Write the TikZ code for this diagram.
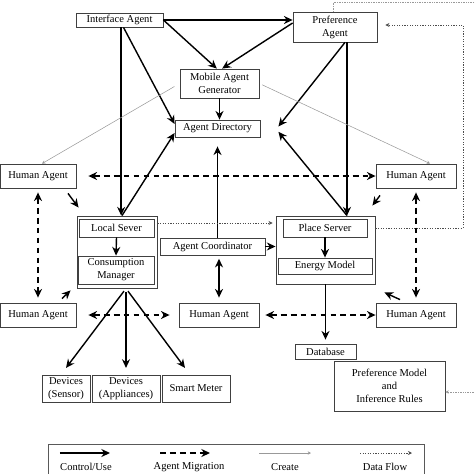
\documentclass[tikz,border=0pt]{standalone}
\usepackage{fontspec}
\setmainfont{Liberation Serif}
\usetikzlibrary{arrows.meta,calc}
\tikzset{
  box_n/.style = {draw=black!75, line width=0.7pt, align=center, inner sep=1pt, font=\small},
  box_o/.style = {draw=black!75, line width=0.8pt, inner sep=0pt},
  ctl/.style = {line width=1.2pt, -{Stealth[length=2.6mm,width=2.4mm]}},
  ctl2/.style = {line width=1.2pt, {Stealth[length=2.6mm,width=2.4mm]}-{Stealth[length=2.6mm,width=2.4mm]}},
  mig/.style = {line width=1.2pt, dash pattern=on 5pt off 3.5pt, -{Stealth[length=2.6mm,width=2.4mm]}},
  mig2/.style = {line width=1.2pt, dash pattern=on 5pt off 3.5pt, {Stealth[length=2.6mm,width=2.4mm]}-{Stealth[length=2.6mm,width=2.4mm]}},
  create/.style = {draw=gray!80, line width=0.45pt, -{Stealth[length=1mm,width=1mm]}},
  dflow/.style = {draw=black!70, line width=0.6pt, dash pattern=on 1pt off 1.2pt, -{Stealth[length=1.2mm,width=1.2mm]}}
}

\begin{document}
\begin{tikzpicture}[x=0.03cm, y=-0.03cm]
\useasboundingbox (0,0) rectangle (474,474);

% agents on top
\node [box_n, minimum width=2.61cm, minimum height=0.42cm] (ia) at (119.5,20) {Interface Agent};
\node [box_n, minimum width=2.52cm, minimum height=0.9cm] (pa) at (335,27) {Preference\\Agent};
\node [box_n, minimum width=2.37cm, minimum height=0.87cm] (mag) at (219.5,83.5) {Mobile Agent\\Generator};
\node [box_n, minimum width=2.55cm, minimum height=0.51cm] (ad) at (217.5,128.5) {Agent Directory};

% human agents
\node [box_n, minimum width=2.28cm, minimum height=0.72cm] (hatl) at (38,176) {Human Agent};
\node [box_n, minimum width=2.4cm, minimum height=0.72cm] (hatr) at (416,176) {Human Agent};
\node [box_n, minimum width=2.28cm, minimum height=0.72cm] (habl) at (38,315) {Human Agent};
\node [box_n, minimum width=2.4cm, minimum height=0.72cm] (habm) at (219,315) {Human Agent};
\node [box_n, minimum width=2.4cm, minimum height=0.72cm] (habr) at (416,315) {Human Agent};

% servers
\node [box_o, minimum width=2.4cm, minimum height=2.16cm] (lsbox) at (117,252) {};
\node [box_n, minimum width=2.25cm, minimum height=0.54cm] (ls) at (116.5,228) {Local Sever};
\node [box_n, minimum width=2.28cm, minimum height=0.84cm] (cm) at (116,270) {Consumption\\Manager};
\node [box_o, minimum width=2.97cm, minimum height=2.04cm] (psbox) at (325.5,250) {};
\node [box_n, minimum width=2.52cm, minimum height=0.54cm] (ps) at (325,228) {Place Server};
\node [box_n, minimum width=2.82cm, minimum height=0.48cm] (em) at (325,266) {Energy Model};
\node [box_n, minimum width=3.15cm, minimum height=0.51cm] (ac) at (212.5,246.5) {Agent Coordinator};

% bottom boxes
\node [box_n, minimum width=1.83cm, minimum height=0.45cm] (db) at (325.5,351.5) {Database};
\node [box_n, minimum width=3.33cm, minimum height=1.5cm] (pm) at (389.5,386) {Preference Model\\and\\Inference Rules};
\node [box_n, minimum width=1.44cm, minimum height=0.81cm] (ds) at (66,388.5) {Devices\\(Sensor)};
\node [box_n, minimum width=2.04cm, minimum height=0.81cm] (dapp) at (126,388.5) {Devices\\(Appliances)};
\node [box_n, minimum width=2.04cm, minimum height=0.81cm] (sm) at (196,388.5) {Smart Meter};

% control / use
\draw[ctl] (ia.east) -- (ia.east -| pa.west);
\draw[ctl] (ia.east) -- ([xshift=-0.08cm]mag.north);
\draw[ctl] ([yshift=0.12cm]pa.west) -- ([xshift=0.08cm]mag.north);
\draw[ctl] (mag.south) -- (mag.south |- ad.north);
\coordinate (ia_d) at ([xshift=0.05cm]ia.south);
\draw[ctl] (ia_d) -- (ia_d |- lsbox.north);
\draw[ctl] ([xshift=0.12cm]ia.south) -- ([yshift=0.135cm]ad.west);
\draw[ctl] ([xshift=0.15cm]lsbox.north) -- ([yshift=-0.135cm]ad.west);
\coordinate (pa_d) at ([xshift=0.36cm]pa.south);
\draw[ctl] (pa_d) -- (pa_d |- psbox.north);
\draw[ctl] ([xshift=0.3cm]pa.south) -- ([shift={(0.54cm,0.06cm)}]ad.east);
\draw[ctl] ([xshift=0.645cm]psbox.north) -- ([shift={(0.54cm,-0.1cm)}]ad.east);
\draw[ctl] (ad.south |- ac.north) -- ([yshift=-0.27cm]ad.south);
\draw[ctl] (ac.east) -- (ac.east -| psbox.west);
\draw[ctl2, shorten <=0.1cm, shorten >=0.15cm] (habm.north |- ac.south) -- (habm.north);
\draw[ctl] (ls.south) -- (cm.north);
\draw[ctl] (ps.south) -- (em.north);
\draw[ctl] (psbox.south) -- ([yshift=0.12cm]db.north);
\coordinate (fan) at (dapp.north |- lsbox.south);
\draw[ctl, shorten <=0.1cm] (fan) -- ([yshift=0.2cm]ds.north);
\draw[ctl, shorten <=0.1cm] (fan) -- ([yshift=0.2cm]dapp.north);
\draw[ctl, shorten <=0.1cm] (fan) -- ([shift={(-0.33cm,0.2cm)}]sm.north);

% human agents to servers
\draw[ctl] ([shift={(0.9cm,-0.15cm)}]hatl.south) -- ([shift={(0.06cm,0.24cm)}]lsbox.north west);
\draw[ctl] ([shift={(0.72cm,0.12cm)}]habl.north) -- ([shift={(-0.18cm,-0.06cm)}]lsbox.south west);
\draw[ctl] ([shift={(-1.08cm,-0.21cm)}]hatr.south) -- ([shift={(-0.09cm,0.3cm)}]psbox.north east);
\draw[ctl] ([shift={(-0.48cm,0.09cm)}]habr.north) -- ([shift={(0.27cm,-0.24cm)}]psbox.south east);

% agent migration
\draw[mig2, shorten <=0.36cm] (hatl.east) -- (hatr.west);
\draw[mig2, shorten <=0.12cm, shorten >=0.15cm] (hatl.south) -- (habl.north);
\draw[mig2, shorten <=0.12cm, shorten >=0.15cm] (hatr.south) -- (habr.north);
\draw[mig2, shorten <=0.36cm, shorten >=0.27cm] (habl.east) -- (habm.west);
\draw[mig2, shorten <=0.18cm] (habm.east) -- (habr.west);

% create
\draw[create, shorten <=0.18cm] (mag.west) -- ([xshift=0.12cm]hatl.north);
\draw[create, shorten <=0.09cm] (mag.east) -- ([xshift=0.42cm]hatr.north);
\coordinate (cr_a) at (333,2);
\coordinate (cr_b) at (478,2);
\coordinate (cr_c) at (478,392);
\draw[create, densely dotted] (pa.north -| cr_a) -- (cr_a) -- (cr_b) -- (cr_c) -- (cr_c -| pm.east);

% data flow
\coordinate (ls_d) at ([yshift=0.87cm]lsbox.east);
\draw[dflow, shorten >=0.09cm] (ls_d) -- (ls_d -| psbox.west);
\coordinate (df_r) at (463,25);
\coordinate (pa_r) at ([xshift=0.24cm]pa.east);
\draw[dflow] (ps.east -| psbox.east) -| (df_r) -- (df_r -| pa_r);

% legend
\coordinate (lg_a) at (48,444);
\coordinate (lg_b) at (424,482);
\draw[draw=black!65, line width=0.8pt] (lg_a) rectangle (lg_b);
\node [font=\small, inner sep=0pt] (lg_c) at (86,467) {Control/Use};
\node [font=\small, inner sep=0pt] (lg_m) at (189,467) {Agent Migration};
\node [font=\small, inner sep=0pt] (lg_cr) at (285,467) {Create};
\node [font=\small, inner sep=0pt] (lg_d) at (385,467) {Data Flow};
\draw[ctl] ([shift={(-0.78cm,0.42cm)}]lg_c.center) -- ([shift={(0.72cm,0.42cm)}]lg_c.center);
\draw[mig] ([shift={(-0.87cm,0.42cm)}]lg_m.center) -- ([shift={(0.63cm,0.42cm)}]lg_m.center);
\draw[create] ([shift={(-0.78cm,0.42cm)}]lg_cr.center) -- ([shift={(0.78cm,0.42cm)}]lg_cr.center);
\draw[dflow] ([shift={(-0.75cm,0.42cm)}]lg_d.center) -- ([shift={(0.81cm,0.42cm)}]lg_d.center);
\end{tikzpicture}
\end{document}
